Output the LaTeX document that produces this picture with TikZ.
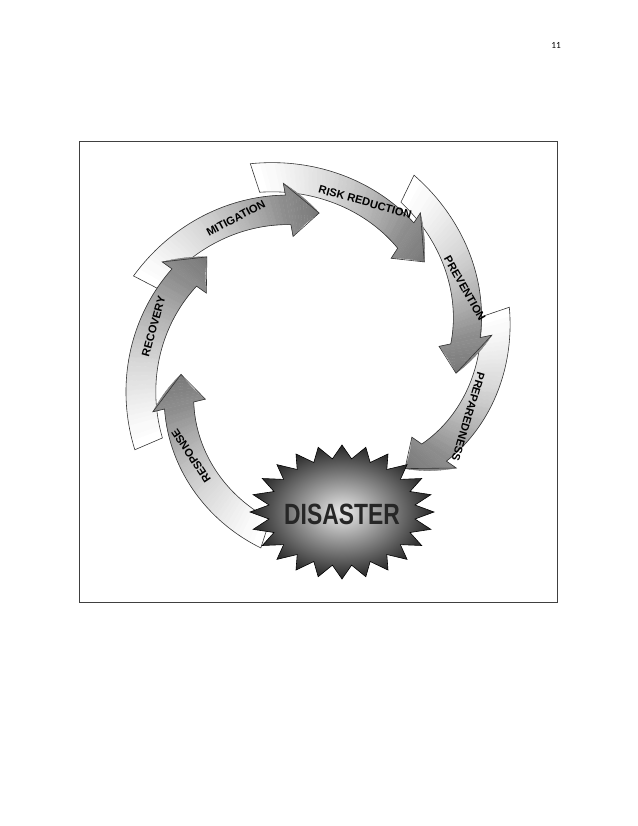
\documentclass[tikz,border=0pt]{standalone}
\usepackage{fontspec}
\setmainfont{Liberation Sans}
\newfontfamily\pagefont{Carlito}
\newcommand\Getpt[4]{%
  \pgfmathsetmacro#3{\Cx+(\Ra+(\Rb-\Ra)*(#1)+(#2))*cos(\Aa+(\Ab-\Aa)*(#1))}%
  \pgfmathsetmacro#4{\Cy-(\Ra+(\Rb-\Ra)*(#1)+(#2))*sin(\Aa+(\Ab-\Aa)*(#1))}}
% args: a1 a2 r1 r2 label name
\newcommand\Sparrow[6]{%
  \def\Cx{318}\def\Cy{372}\def\W{15}\def\HW{27}%
  \def\Aa{#1}\def\Ab{#2}\def\Ra{#3}\def\Rb{#4}%
  \pgfmathsetmacro\hl{deg(30/#4)}%
  \pgfmathsetmacro\th{1-\hl/(#1-#2)}%
  \foreach \i in {0,...,39}{%
    \pgfmathsetmacro\ta{\th*\i/40}\pgfmathsetmacro\tb{\th*(\i+1)/40}%
    \pgfmathtruncatemacro\pc{round(45*(\i/39)^1.3)}%
    \Getpt{\ta}{\W}{\xa}{\ya}\Getpt{\tb}{\W}{\xb}{\yb}%
    \Getpt{\tb}{-\W}{\xc}{\yc}\Getpt{\ta}{-\W}{\xd}{\yd}%
    \fill[black!\pc!white,draw=black!\pc!white,line width=0.3pt] (\xa,\ya)--(\xb,\yb)--(\xc,\yc)--(\xd,\yd)--cycle;}
  \foreach \j in {0,...,9}{%
    \pgfmathsetmacro\ta{\th+(1-\th)*\j/10}\pgfmathsetmacro\tb{\th+(1-\th)*(\j+1)/10}%
    \pgfmathsetmacro\wa{\HW*(1-\j/10)}\pgfmathsetmacro\wb{\HW*(1-(\j+1)/10)}%
    \pgfmathtruncatemacro\pc{45+round(8*\j/9)}%
    \Getpt{\ta}{\wa}{\xa}{\ya}\Getpt{\tb}{\wb}{\xb}{\yb}%
    \Getpt{\tb}{-\wb}{\xc}{\yc}\Getpt{\ta}{-\wa}{\xd}{\yd}%
    \fill[black!\pc!white,draw=black!\pc!white,line width=0.3pt] (\xa,\ya)--(\xb,\yb)--(\xc,\yc)--(\xd,\yd)--cycle;}
  \Getpt{\th}{\HW}{\hxa}{\hya}\Getpt{1}{0}{\hxt}{\hyt}\Getpt{\th}{-\HW}{\hxb}{\hyb}%
  \draw[outl] plot[domain=0:\th,samples=40] ({\Cx+(\Ra+(\Rb-\Ra)*\x+\W)*cos(\Aa+(\Ab-\Aa)*\x)},{\Cy-(\Ra+(\Rb-\Ra)*\x+\W)*sin(\Aa+(\Ab-\Aa)*\x)})
    -- (\hxa,\hya) -- (\hxt,\hyt) -- (\hxb,\hyb)
    -- plot[domain=\th:0,samples=40] ({\Cx+(\Ra+(\Rb-\Ra)*\x-\W)*cos(\Aa+(\Ab-\Aa)*\x)},{\Cy-(\Ra+(\Rb-\Ra)*\x-\W)*sin(\Aa+(\Ab-\Aa)*\x)}) -- cycle;
  \pgfmathsetmacro\tm{\th*0.66}%
  \Getpt{\tm}{0}{\lx}{\ly}%
  \pgfmathsetmacro\rot{\Aa+(\Ab-\Aa)*\tm-90}%
  \node[lbl,rotate=\rot] (#6) at (\lx,\ly) {#5};
}
\begin{document}
\begin{tikzpicture}[x=0.03cm,y=-0.03cm,
  outl/.style={draw=black!80,line width=0.5pt},
  lbl/.style={font=\bfseries\fontsize{9.5}{10}\selectfont,inner sep=0pt},
  frame/.style={draw=black!75,line width=0.7pt}]
\useasboundingbox (0,0) rectangle (638,826);
\node[font=\pagefont\fontsize{8}{8}\selectfont] (pg) at (556,45) {11};
\draw[frame] (79,141) rectangle (557,602);
\Sparrow{18.7}{-48}{187}{130}{PREPAREDNESS}{prep}
\Sparrow{64}{-0.5}{204}{138}{PREVENTION}{prev}
\Sparrow{108}{46}{204}{153}{RISK REDUCTION}{risk}
\Sparrow{152.5}{89.6}{193}{159}{MITIGATION}{miti}
\Sparrow{203}{134}{184}{160}{RECOVERY}{reco}
\Sparrow{252}{181}{170}{137}{RESPONSE}{resp}
\shade[inner color=black!8,outer color=black!85,draw=black,line width=0.5pt]
  plot[domain=0:47,samples=48] ({342+92*(1-0.2*mod(round(\x),2))*cos(\x*7.5)},{512-67*(1-0.2*mod(round(\x),2))*sin(\x*7.5)}) -- cycle;
\node[font=\bfseries\fontsize{25}{25}\selectfont,xscale=0.78,text=black!85] (dis) at (342,514) {DISASTER};
\end{tikzpicture}
\end{document}
